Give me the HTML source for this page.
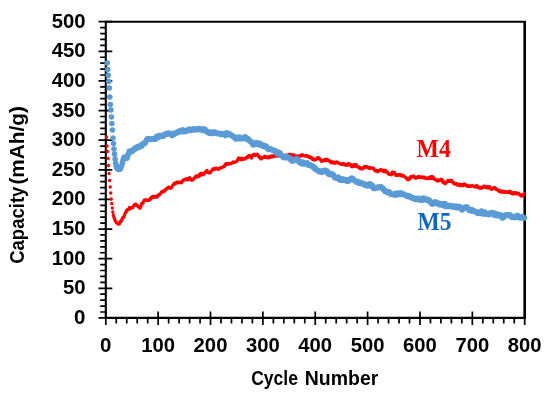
<!DOCTYPE html>
<html><head><meta charset="utf-8"><title>Cycle performance</title>
<style>
html,body{margin:0;padding:0;background:#fff;}
svg{display:block}
.t{font-family:"Liberation Sans",sans-serif;font-weight:bold;font-size:19.4px;fill:#000}
.s{font-family:"Liberation Serif",serif;font-weight:bold;font-size:24.5px}
</style></head><body>
<svg width="550" height="400" viewBox="0 0 550 400">
<rect width="550" height="400" fill="#fff"/>
<path d="M104.75 21.70H526.00" stroke="#000" stroke-width="2.1" fill="none"/><path d="M105.80 21.70V317.90H526.00" stroke="#000" stroke-width="2.1" fill="none"/><path d="M524.70 21.70V318.95" stroke="#000" stroke-width="2.6" fill="none"/>
<path d="M98.50 317.90H112.30M100.20 311.98H105.80M100.20 306.05H105.80M100.20 300.13H105.80M100.20 294.20H105.80M98.50 288.28H112.30M100.20 282.36H105.80M100.20 276.43H105.80M100.20 270.51H105.80M100.20 264.58H105.80M98.50 258.66H112.30M100.20 252.74H105.80M100.20 246.81H105.80M100.20 240.89H105.80M100.20 234.96H105.80M98.50 229.04H112.30M100.20 223.12H105.80M100.20 217.19H105.80M100.20 211.27H105.80M100.20 205.34H105.80M98.50 199.42H112.30M100.20 193.50H105.80M100.20 187.57H105.80M100.20 181.65H105.80M100.20 175.72H105.80M98.50 169.80H112.30M100.20 163.88H105.80M100.20 157.95H105.80M100.20 152.03H105.80M100.20 146.10H105.80M98.50 140.18H112.30M100.20 134.26H105.80M100.20 128.33H105.80M100.20 122.41H105.80M100.20 116.48H105.80M98.50 110.56H112.30M100.20 104.64H105.80M100.20 98.71H105.80M100.20 92.79H105.80M100.20 86.86H105.80M98.50 80.94H112.30M100.20 75.02H105.80M100.20 69.09H105.80M100.20 63.17H105.80M100.20 57.24H105.80M98.50 51.32H112.30M100.20 45.40H105.80M100.20 39.47H105.80M100.20 33.55H105.80M100.20 27.62H105.80M98.50 21.70H112.30M105.80 311.40V324.90M116.27 317.90V323.40M126.75 317.90V323.40M137.22 317.90V323.40M147.69 317.90V323.40M158.16 311.40V324.90M168.63 317.90V323.40M179.11 317.90V323.40M189.58 317.90V323.40M200.05 317.90V323.40M210.52 311.40V324.90M221.00 317.90V323.40M231.47 317.90V323.40M241.94 317.90V323.40M252.42 317.90V323.40M262.89 311.40V324.90M273.36 317.90V323.40M283.83 317.90V323.40M294.31 317.90V323.40M304.78 317.90V323.40M315.25 311.40V324.90M325.72 317.90V323.40M336.20 317.90V323.40M346.67 317.90V323.40M357.14 317.90V323.40M367.61 311.40V324.90M378.09 317.90V323.40M388.56 317.90V323.40M399.03 317.90V323.40M409.50 317.90V323.40M419.98 311.40V324.90M430.45 317.90V323.40M440.92 317.90V323.40M451.39 317.90V323.40M461.87 317.90V323.40M472.34 311.40V324.90M482.81 317.90V323.40M493.28 317.90V323.40M503.75 317.90V323.40M514.23 317.90V323.40M524.70 311.40V324.90" stroke="#000" stroke-width="1.7" fill="none"/>
<path d="M106.5 137.0h0M107.0 146.0h0M107.5 151.5h0M108.1 158.5h0M108.6 165.5h0M109.1 173.5h0M109.6 180.5h0M110.2 187.0h0M110.7 193.0h0M111.2 199.0h0M111.7 203.5h0M112.3 208.0h0M112.8 212.0h0M113.3 215.0h0M113.8 217.0h0M114.4 218.5h0M114.9 220.0h0M115.4 221.0h0M115.9 222.0h0M116.4 222.5h0M117.0 223.0h0M117.5 223.5h0M118.0 224.0h0M118.5 224.0h0M119.1 224.0h0M119.6 223.5h0M120.1 221.5h0M120.6 221.8h0M121.2 221.3h0M121.7 219.8h0M122.2 219.2h0M122.7 217.6h0M123.3 217.1h0M123.8 217.2h0M124.3 215.5h0M124.8 214.2h0M125.3 212.8h0M125.9 212.4h0M126.4 211.1h0M126.9 209.9h0M127.4 210.3h0M128.0 209.5h0M128.5 209.0h0M129.0 209.0h0M129.5 207.5h0M130.1 208.8h0M130.6 207.6h0M131.1 208.2h0M131.6 207.9h0M132.2 207.9h0M132.7 207.7h0M133.2 206.6h0M133.7 205.8h0M134.2 204.9h0M134.8 204.7h0M135.3 204.2h0M135.8 204.1h0M136.3 204.9h0M136.9 205.7h0M137.4 205.7h0M137.9 205.9h0M138.4 207.0h0M139.0 206.7h0M139.5 206.6h0M140.0 208.2h0M140.5 206.6h0M141.1 206.2h0M141.6 203.7h0M142.1 204.1h0M142.6 202.6h0M143.1 203.1h0M143.7 201.1h0M144.2 200.2h0M144.7 200.1h0M145.2 200.0h0M145.8 199.8h0M146.3 200.3h0M146.8 200.2h0M147.3 200.4h0M147.9 200.4h0M148.4 200.1h0M148.9 200.2h0M149.4 200.1h0M150.0 198.8h0M150.5 199.3h0M151.0 198.0h0M151.5 197.3h0M152.0 197.7h0M152.6 196.5h0M153.1 196.7h0M153.6 196.6h0M154.1 197.5h0M154.7 196.8h0M155.2 196.3h0M155.7 196.7h0M156.2 196.6h0M156.8 197.1h0M157.3 197.1h0M157.8 195.8h0M158.3 195.0h0M158.8 195.4h0M159.4 194.9h0M159.9 193.9h0M160.4 193.6h0M160.9 193.1h0M161.5 192.0h0M162.0 192.2h0M162.5 191.5h0M163.0 191.0h0M163.6 191.0h0M164.1 191.4h0M164.6 191.3h0M165.1 190.6h0M165.7 189.4h0M166.2 188.8h0M166.7 189.0h0M167.2 188.4h0M167.7 188.1h0M168.3 187.3h0M168.8 187.2h0M169.3 187.1h0M169.8 188.1h0M170.4 188.3h0M170.9 187.5h0M171.4 187.7h0M171.9 187.1h0M172.5 185.6h0M173.0 185.1h0M173.5 184.8h0M174.0 183.4h0M174.6 184.1h0M175.1 183.2h0M175.6 183.3h0M176.1 183.0h0M176.6 182.3h0M177.2 183.0h0M177.7 182.8h0M178.2 182.3h0M178.7 182.2h0M179.3 182.6h0M179.8 182.4h0M180.3 182.2h0M180.8 182.6h0M181.4 182.7h0M181.9 181.9h0M182.4 181.0h0M182.9 181.1h0M183.5 180.0h0M184.0 180.0h0M184.5 179.6h0M185.0 179.1h0M185.5 179.1h0M186.1 179.4h0M186.6 179.8h0M187.1 178.7h0M187.6 179.8h0M188.2 179.8h0M188.7 178.6h0M189.2 177.9h0M189.7 177.7h0M190.3 178.6h0M190.8 179.1h0M191.3 179.7h0M191.8 180.3h0M192.4 179.7h0M192.9 179.6h0M193.4 179.4h0M193.9 178.4h0M194.4 178.0h0M195.0 177.4h0M195.5 176.7h0M196.0 176.0h0M196.5 176.2h0M197.1 177.0h0M197.6 175.9h0M198.1 176.2h0M198.6 175.6h0M199.2 176.3h0M199.7 174.3h0M200.2 174.5h0M200.7 173.4h0M201.3 174.9h0M201.8 173.2h0M202.3 174.3h0M202.8 173.8h0M203.3 174.8h0M203.9 173.9h0M204.4 173.7h0M204.9 172.4h0M205.4 171.9h0M206.0 171.4h0M206.5 172.1h0M207.0 170.4h0M207.5 172.0h0M208.1 172.5h0M208.6 172.7h0M209.1 172.9h0M209.6 173.0h0M210.2 172.5h0M210.7 172.0h0M211.2 171.0h0M211.7 170.6h0M212.2 170.3h0M212.8 168.9h0M213.3 168.8h0M213.8 169.1h0M214.3 169.3h0M214.9 169.3h0M215.4 168.9h0M215.9 167.9h0M216.4 168.9h0M217.0 168.9h0M217.5 169.0h0M218.0 168.9h0M218.5 169.2h0M219.1 168.6h0M219.6 168.1h0M220.1 168.2h0M220.6 167.7h0M221.1 168.0h0M221.7 167.8h0M222.2 167.2h0M222.7 167.0h0M223.2 166.8h0M223.8 166.4h0M224.3 166.5h0M224.8 164.9h0M225.3 165.2h0M225.9 163.6h0M226.4 163.7h0M226.9 164.5h0M227.4 163.8h0M228.0 163.7h0M228.5 163.9h0M229.0 163.4h0M229.5 163.7h0M230.0 163.8h0M230.6 163.7h0M231.1 163.6h0M231.6 163.1h0M232.1 163.1h0M232.7 162.1h0M233.2 162.5h0M233.7 162.0h0M234.2 162.2h0M234.8 162.3h0M235.3 161.9h0M235.8 161.8h0M236.3 161.5h0M236.9 161.2h0M237.4 160.5h0M237.9 159.3h0M238.4 158.3h0M238.9 158.3h0M239.5 158.2h0M240.0 158.9h0M240.5 159.1h0M241.0 159.7h0M241.6 158.3h0M242.1 158.9h0M242.6 158.9h0M243.1 159.4h0M243.7 159.3h0M244.2 159.0h0M244.7 159.1h0M245.2 158.3h0M245.8 158.1h0M246.3 158.0h0M246.8 157.1h0M247.3 157.9h0M247.8 156.5h0M248.4 156.0h0M248.9 156.3h0M249.4 155.4h0M249.9 156.2h0M250.5 156.5h0M251.0 157.2h0M251.5 158.0h0M252.0 156.3h0M252.6 155.0h0M253.1 155.1h0M253.6 155.1h0M254.1 154.3h0M254.7 154.9h0M255.2 155.5h0M255.7 155.1h0M256.2 154.6h0M256.7 154.6h0M257.3 154.2h0M257.8 155.0h0M258.3 155.4h0M258.8 156.9h0M259.4 156.4h0M259.9 157.1h0M260.4 158.5h0M260.9 158.9h0M261.5 158.2h0M262.0 158.2h0M262.5 158.1h0M263.0 157.6h0M263.5 157.1h0M264.1 157.2h0M264.6 156.2h0M265.1 157.3h0M265.6 157.2h0M266.2 156.8h0M266.7 157.3h0M267.2 157.7h0M267.7 157.6h0M268.3 157.7h0M268.8 157.5h0M269.3 156.5h0M269.8 157.6h0M270.4 156.5h0M270.9 157.0h0M271.4 155.9h0M271.9 156.8h0M272.4 156.0h0M273.0 156.7h0M273.5 156.3h0M274.0 155.9h0M274.5 155.5h0M275.1 155.8h0M275.6 156.3h0M276.1 155.0h0M276.6 155.8h0M277.2 155.5h0M277.7 155.4h0M278.2 156.0h0M278.7 155.7h0M279.3 155.1h0M279.8 155.7h0M280.3 154.9h0M280.8 155.0h0M281.3 155.4h0M281.9 155.7h0M282.4 155.7h0M282.9 155.3h0M283.4 156.2h0M284.0 156.9h0M284.5 155.8h0M285.0 155.8h0M285.5 155.3h0M286.1 155.8h0M286.6 155.3h0M287.1 155.6h0M287.6 156.0h0M288.2 155.4h0M288.7 154.7h0M289.2 155.1h0M289.7 154.2h0M290.2 155.6h0M290.8 155.4h0M291.3 154.8h0M291.8 155.3h0M292.3 155.0h0M292.9 156.3h0M293.4 155.6h0M293.9 155.0h0M294.4 155.3h0M295.0 156.0h0M295.5 156.0h0M296.0 156.7h0M296.5 156.9h0M297.1 156.0h0M297.6 156.9h0M298.1 157.1h0M298.6 156.3h0M299.1 156.4h0M299.7 155.8h0M300.2 155.8h0M300.7 156.0h0M301.2 155.2h0M301.8 154.6h0M302.3 155.6h0M302.8 155.0h0M303.3 155.5h0M303.9 155.8h0M304.4 156.0h0M304.9 155.9h0M305.4 155.8h0M306.0 155.5h0M306.5 156.1h0M307.0 155.7h0M307.5 156.5h0M308.0 156.3h0M308.6 156.7h0M309.1 156.4h0M309.6 157.7h0M310.1 157.5h0M310.7 157.4h0M311.2 157.2h0M311.7 158.0h0M312.2 159.2h0M312.8 158.7h0M313.3 159.8h0M313.8 159.8h0M314.3 160.0h0M314.9 159.3h0M315.4 159.5h0M315.9 159.6h0M316.4 159.1h0M316.9 158.5h0M317.5 157.7h0M318.0 158.3h0M318.5 157.7h0M319.0 157.9h0M319.6 158.9h0M320.1 159.0h0M320.6 160.2h0M321.1 160.3h0M321.7 161.4h0M322.2 160.6h0M322.7 160.6h0M323.2 160.6h0M323.8 160.3h0M324.3 160.3h0M324.8 159.4h0M325.3 160.8h0M325.8 159.9h0M326.4 160.2h0M326.9 159.3h0M327.4 160.2h0M327.9 159.9h0M328.5 160.3h0M329.0 160.4h0M329.5 161.3h0M330.0 161.3h0M330.6 162.1h0M331.1 162.7h0M331.6 161.6h0M332.1 162.6h0M332.7 162.7h0M333.2 161.9h0M333.7 162.5h0M334.2 163.3h0M334.7 162.8h0M335.3 162.3h0M335.8 163.0h0M336.3 162.6h0M336.8 161.9h0M337.4 162.5h0M337.9 162.8h0M338.4 162.8h0M338.9 163.3h0M339.5 163.5h0M340.0 163.7h0M340.5 163.8h0M341.0 164.2h0M341.6 164.1h0M342.1 164.4h0M342.6 163.9h0M343.1 163.5h0M343.6 163.9h0M344.2 164.8h0M344.7 164.0h0M345.2 165.0h0M345.7 164.4h0M346.3 165.0h0M346.8 165.2h0M347.3 164.9h0M347.8 165.0h0M348.4 163.5h0M348.9 163.6h0M349.4 164.5h0M349.9 164.9h0M350.5 164.5h0M351.0 165.5h0M351.5 166.5h0M352.0 166.7h0M352.5 165.7h0M353.1 166.2h0M353.6 164.8h0M354.1 166.0h0M354.6 166.2h0M355.2 164.8h0M355.7 165.3h0M356.2 164.8h0M356.7 165.7h0M357.3 166.6h0M357.8 167.1h0M358.3 167.2h0M358.8 166.9h0M359.4 167.3h0M359.9 168.6h0M360.4 168.1h0M360.9 168.3h0M361.4 168.8h0M362.0 168.4h0M362.5 168.7h0M363.0 168.0h0M363.5 167.5h0M364.1 166.7h0M364.6 167.8h0M365.1 166.9h0M365.6 166.5h0M366.2 166.8h0M366.7 166.7h0M367.2 166.6h0M367.7 167.6h0M368.2 168.0h0M368.8 168.2h0M369.3 167.7h0M369.8 167.4h0M370.3 168.5h0M370.9 168.2h0M371.4 167.9h0M371.9 168.1h0M372.4 168.1h0M373.0 168.3h0M373.5 168.3h0M374.0 169.6h0M374.5 169.8h0M375.1 170.7h0M375.6 170.7h0M376.1 171.0h0M376.6 170.5h0M377.1 171.3h0M377.7 171.7h0M378.2 170.5h0M378.7 170.6h0M379.2 170.6h0M379.8 170.2h0M380.3 170.2h0M380.8 169.4h0M381.3 169.8h0M381.9 170.8h0M382.4 170.1h0M382.9 170.4h0M383.4 171.5h0M384.0 170.2h0M384.5 171.7h0M385.0 171.6h0M385.5 170.5h0M386.0 171.3h0M386.6 172.0h0M387.1 171.9h0M387.6 172.4h0M388.1 173.8h0M388.7 173.7h0M389.2 174.2h0M389.7 174.2h0M390.2 174.5h0M390.8 174.2h0M391.3 174.8h0M391.8 173.3h0M392.3 172.3h0M392.9 172.2h0M393.4 172.2h0M393.9 173.8h0M394.4 172.4h0M394.9 173.9h0M395.5 174.4h0M396.0 175.6h0M396.5 174.7h0M397.0 174.6h0M397.6 175.3h0M398.1 175.3h0M398.6 174.6h0M399.1 174.7h0M399.7 174.4h0M400.2 175.2h0M400.7 175.2h0M401.2 175.0h0M401.8 176.0h0M402.3 175.5h0M402.8 175.2h0M403.3 175.7h0M403.8 176.0h0M404.4 176.5h0M404.9 176.7h0M405.4 177.6h0M405.9 177.8h0M406.5 178.0h0M407.0 179.2h0M407.5 178.8h0M408.0 179.7h0M408.6 179.5h0M409.1 179.0h0M409.6 179.1h0M410.1 177.0h0M410.7 177.8h0M411.2 176.8h0M411.7 177.1h0M412.2 176.4h0M412.7 176.5h0M413.3 176.3h0M413.8 176.0h0M414.3 176.6h0M414.8 177.8h0M415.4 178.0h0M415.9 178.3h0M416.4 177.7h0M416.9 177.7h0M417.5 177.4h0M418.0 176.5h0M418.5 177.1h0M419.0 176.8h0M419.6 177.5h0M420.1 177.5h0M420.6 177.4h0M421.1 176.8h0M421.6 177.0h0M422.2 177.8h0M422.7 177.4h0M423.2 177.7h0M423.7 177.0h0M424.3 177.7h0M424.8 177.5h0M425.3 177.7h0M425.8 178.4h0M426.4 178.1h0M426.9 177.9h0M427.4 178.8h0M427.9 178.3h0M428.5 177.7h0M429.0 177.9h0M429.5 178.3h0M430.0 177.7h0M430.5 176.7h0M431.1 178.6h0M431.6 176.8h0M432.1 177.3h0M432.6 176.7h0M433.2 177.2h0M433.7 178.8h0M434.2 178.5h0M434.7 179.6h0M435.3 179.4h0M435.8 179.6h0M436.3 180.1h0M436.8 180.4h0M437.4 181.0h0M437.9 179.9h0M438.4 180.1h0M438.9 180.6h0M439.4 180.5h0M440.0 179.7h0M440.5 179.4h0M441.0 180.2h0M441.5 179.2h0M442.1 180.2h0M442.6 181.9h0M443.1 181.1h0M443.6 182.8h0M444.2 182.2h0M444.7 182.6h0M445.2 183.8h0M445.7 183.1h0M446.3 182.4h0M446.8 182.0h0M447.3 181.3h0M447.8 180.4h0M448.3 181.3h0M448.9 181.1h0M449.4 180.7h0M449.9 181.6h0M450.4 180.9h0M451.0 180.3h0M451.5 180.5h0M452.0 181.4h0M452.5 181.9h0M453.1 183.1h0M453.6 182.6h0M454.1 183.6h0M454.6 184.0h0M455.2 183.9h0M455.7 184.1h0M456.2 183.4h0M456.7 183.8h0M457.2 185.1h0M457.8 184.6h0M458.3 184.6h0M458.8 184.3h0M459.3 184.9h0M459.9 185.7h0M460.4 184.6h0M460.9 184.4h0M461.4 184.9h0M462.0 184.8h0M462.5 184.6h0M463.0 185.8h0M463.5 185.0h0M464.1 183.9h0M464.6 184.4h0M465.1 184.9h0M465.6 184.6h0M466.1 185.5h0M466.7 185.1h0M467.2 186.3h0M467.7 186.3h0M468.2 186.5h0M468.8 186.0h0M469.3 185.7h0M469.8 186.1h0M470.3 186.2h0M470.9 186.4h0M471.4 185.6h0M471.9 186.0h0M472.4 186.0h0M472.9 186.0h0M473.5 186.0h0M474.0 186.1h0M474.5 186.8h0M475.0 187.0h0M475.6 186.9h0M476.1 186.7h0M476.6 185.4h0M477.1 186.6h0M477.7 187.3h0M478.2 186.8h0M478.7 188.0h0M479.2 187.2h0M479.8 187.8h0M480.3 187.8h0M480.8 188.2h0M481.3 187.4h0M481.8 187.9h0M482.4 187.4h0M482.9 186.7h0M483.4 186.2h0M483.9 187.2h0M484.5 186.1h0M485.0 187.1h0M485.5 187.2h0M486.0 187.6h0M486.6 187.5h0M487.1 187.3h0M487.6 186.5h0M488.1 188.0h0M488.7 187.4h0M489.2 187.7h0M489.7 186.8h0M490.2 188.1h0M490.7 188.7h0M491.3 189.3h0M491.8 188.7h0M492.3 189.0h0M492.8 188.3h0M493.4 188.2h0M493.9 188.1h0M494.4 187.4h0M494.9 187.8h0M495.5 188.1h0M496.0 189.3h0M496.5 189.3h0M497.0 189.6h0M497.6 189.6h0M498.1 190.8h0M498.6 191.0h0M499.1 191.2h0M499.6 191.1h0M500.2 190.8h0M500.7 192.0h0M501.2 191.5h0M501.7 191.6h0M502.3 191.3h0M502.8 192.2h0M503.3 191.5h0M503.8 191.8h0M504.4 191.7h0M504.9 191.6h0M505.4 192.5h0M505.9 192.0h0M506.5 191.7h0M507.0 192.1h0M507.5 192.1h0M508.0 192.2h0M508.5 191.9h0M509.1 192.3h0M509.6 191.3h0M510.1 191.7h0M510.6 192.7h0M511.2 193.2h0M511.7 192.4h0M512.2 193.8h0M512.7 193.6h0M513.3 193.9h0M513.8 192.7h0M514.3 193.4h0M514.8 193.5h0M515.4 192.5h0M515.9 193.1h0M516.4 193.9h0M516.9 193.3h0M517.4 193.8h0M518.0 193.7h0M518.5 193.1h0M519.0 193.9h0M519.5 194.4h0M520.1 194.5h0M520.6 195.8h0M521.1 195.2h0M521.6 196.1h0M522.2 195.9h0M522.7 195.4h0M523.2 194.7h0M523.7 194.0h0M524.3 193.8h0" stroke="#ff0000" stroke-width="3.4" stroke-linecap="round" fill="none"/>
<path d="M107.2 63.0h0M107.7 69.5h0M108.2 75.3h0M108.8 81.5h0M109.3 88.0h0M109.8 97.0h0M110.3 104.5h0M110.9 110.0h0M111.4 117.0h0M111.9 123.5h0M112.4 130.0h0M113.0 138.0h0M113.5 143.5h0M114.0 149.0h0M114.5 154.0h0M115.1 159.0h0M115.6 163.0h0M116.1 165.5h0M116.6 167.5h0M117.1 168.5h0M117.7 169.0h0M118.2 169.3h0M118.7 169.5h0M119.2 169.5h0M119.8 169.3h0M120.3 169.0h0M120.8 168.0h0M121.3 166.5h0M121.9 165.0h0M122.4 163.0h0M122.9 161.0h0M123.4 159.0h0M124.0 157.5h0M124.5 157.1h0M125.0 157.5h0M125.5 158.2h0M126.0 158.5h0M126.6 157.3h0M127.1 157.9h0M127.6 156.6h0M128.1 154.4h0M128.7 153.7h0M129.2 151.2h0M129.7 151.6h0M130.2 151.2h0M130.8 151.0h0M131.3 151.7h0M131.8 150.4h0M132.3 151.3h0M132.9 150.0h0M133.4 150.3h0M133.9 149.3h0M134.4 149.5h0M134.9 149.3h0M135.5 147.9h0M136.0 148.3h0M136.5 147.8h0M137.0 147.3h0M137.6 146.6h0M138.1 147.6h0M138.6 146.7h0M139.1 147.2h0M139.7 146.1h0M140.2 145.7h0M140.7 145.9h0M141.2 145.0h0M141.8 145.9h0M142.3 144.4h0M142.8 144.6h0M143.3 143.6h0M143.8 143.3h0M144.4 143.2h0M144.9 143.2h0M145.4 142.6h0M145.9 141.3h0M146.5 140.2h0M147.0 139.1h0M147.5 138.8h0M148.0 138.7h0M148.6 138.8h0M149.1 138.9h0M149.6 138.8h0M150.1 139.3h0M150.7 139.5h0M151.2 139.1h0M151.7 138.9h0M152.2 138.7h0M152.7 139.1h0M153.3 138.5h0M153.8 139.0h0M154.3 139.1h0M154.8 139.1h0M155.4 139.2h0M155.9 138.4h0M156.4 137.7h0M156.9 136.2h0M157.5 136.8h0M158.0 137.4h0M158.5 135.7h0M159.0 135.6h0M159.5 135.8h0M160.1 136.4h0M160.6 136.1h0M161.1 135.5h0M161.6 135.6h0M162.2 136.0h0M162.7 135.6h0M163.2 136.2h0M163.7 135.3h0M164.3 134.7h0M164.8 134.7h0M165.3 134.1h0M165.8 133.8h0M166.4 134.3h0M166.9 134.3h0M167.4 133.2h0M167.9 133.2h0M168.4 133.2h0M169.0 133.5h0M169.5 133.3h0M170.0 133.8h0M170.5 133.8h0M171.1 134.6h0M171.6 133.5h0M172.1 135.4h0M172.6 135.2h0M173.2 134.4h0M173.7 134.6h0M174.2 134.2h0M174.7 133.1h0M175.3 133.3h0M175.8 133.3h0M176.3 132.6h0M176.8 132.8h0M177.3 132.2h0M177.9 132.0h0M178.4 131.4h0M178.9 131.5h0M179.4 131.1h0M180.0 132.0h0M180.5 131.1h0M181.0 130.4h0M181.5 131.0h0M182.1 131.0h0M182.6 129.7h0M183.1 131.5h0M183.6 130.5h0M184.2 131.8h0M184.7 131.0h0M185.2 130.5h0M185.7 131.5h0M186.2 130.4h0M186.8 130.5h0M187.3 130.3h0M187.8 130.4h0M188.3 130.1h0M188.9 129.5h0M189.4 129.1h0M189.9 130.5h0M190.4 129.3h0M191.0 130.4h0M191.5 129.3h0M192.0 130.0h0M192.5 130.0h0M193.1 128.9h0M193.6 129.7h0M194.1 129.9h0M194.6 130.0h0M195.1 129.5h0M195.7 129.7h0M196.2 129.3h0M196.7 128.8h0M197.2 129.6h0M197.8 128.5h0M198.3 129.5h0M198.8 129.2h0M199.3 128.5h0M199.9 129.3h0M200.4 129.6h0M200.9 129.4h0M201.4 130.0h0M202.0 129.4h0M202.5 130.2h0M203.0 129.7h0M203.5 128.7h0M204.0 129.3h0M204.6 129.5h0M205.1 129.2h0M205.6 130.9h0M206.1 131.5h0M206.7 131.8h0M207.2 131.4h0M207.7 132.3h0M208.2 131.9h0M208.8 132.5h0M209.3 133.2h0M209.8 132.7h0M210.3 132.2h0M210.9 132.6h0M211.4 133.2h0M211.9 133.4h0M212.4 132.1h0M212.9 132.4h0M213.5 132.6h0M214.0 132.7h0M214.5 132.9h0M215.0 132.1h0M215.6 132.6h0M216.1 133.5h0M216.6 133.2h0M217.1 133.3h0M217.7 133.7h0M218.2 133.3h0M218.7 133.7h0M219.2 133.6h0M219.8 133.4h0M220.3 133.6h0M220.8 134.4h0M221.3 134.2h0M221.8 133.9h0M222.4 134.2h0M222.9 133.7h0M223.4 134.4h0M223.9 134.4h0M224.5 134.3h0M225.0 133.6h0M225.5 135.4h0M226.0 134.5h0M226.6 132.8h0M227.1 133.4h0M227.6 133.6h0M228.1 133.4h0M228.7 134.0h0M229.2 133.6h0M229.7 134.7h0M230.2 134.8h0M230.7 134.9h0M231.3 135.1h0M231.8 135.4h0M232.3 135.9h0M232.8 135.7h0M233.4 136.3h0M233.9 137.0h0M234.4 137.4h0M234.9 138.1h0M235.5 138.4h0M236.0 138.9h0M236.5 138.4h0M237.0 137.2h0M237.6 138.3h0M238.1 138.6h0M238.6 138.2h0M239.1 138.2h0M239.6 137.0h0M240.2 138.7h0M240.7 138.4h0M241.2 138.0h0M241.7 138.4h0M242.3 138.3h0M242.8 138.6h0M243.3 138.1h0M243.8 138.3h0M244.4 137.8h0M244.9 136.8h0M245.4 137.0h0M245.9 138.3h0M246.5 138.9h0M247.0 138.5h0M247.5 139.3h0M248.0 138.9h0M248.5 139.3h0M249.1 140.3h0M249.6 141.1h0M250.1 141.3h0M250.6 141.5h0M251.2 141.6h0M251.7 142.5h0M252.2 143.3h0M252.7 143.4h0M253.3 144.9h0M253.8 143.6h0M254.3 143.8h0M254.8 144.1h0M255.4 143.3h0M255.9 143.6h0M256.4 142.5h0M256.9 143.2h0M257.4 142.8h0M258.0 144.4h0M258.5 143.4h0M259.0 143.9h0M259.5 144.4h0M260.1 143.5h0M260.6 145.2h0M261.1 145.5h0M261.6 145.6h0M262.2 145.1h0M262.7 145.1h0M263.2 146.2h0M263.7 146.3h0M264.2 146.6h0M264.8 145.5h0M265.3 145.9h0M265.8 146.6h0M266.3 146.3h0M266.9 147.2h0M267.4 148.2h0M267.9 148.9h0M268.4 148.6h0M269.0 149.4h0M269.5 149.0h0M270.0 149.0h0M270.5 148.9h0M271.1 149.2h0M271.6 149.3h0M272.1 149.6h0M272.6 149.7h0M273.1 150.4h0M273.7 150.6h0M274.2 150.2h0M274.7 151.1h0M275.2 151.3h0M275.8 151.0h0M276.3 152.5h0M276.8 153.3h0M277.3 153.8h0M277.9 153.4h0M278.4 152.3h0M278.9 153.7h0M279.4 154.0h0M280.0 152.9h0M280.5 154.7h0M281.0 154.9h0M281.5 155.2h0M282.0 155.5h0M282.6 155.9h0M283.1 157.3h0M283.6 156.8h0M284.1 157.2h0M284.7 157.7h0M285.2 157.8h0M285.7 156.6h0M286.2 157.8h0M286.8 157.1h0M287.3 157.1h0M287.8 157.0h0M288.3 157.2h0M288.9 157.5h0M289.4 158.1h0M289.9 158.6h0M290.4 159.6h0M290.9 159.5h0M291.5 159.7h0M292.0 160.9h0M292.5 159.5h0M293.0 159.7h0M293.6 160.7h0M294.1 160.2h0M294.6 159.3h0M295.1 159.8h0M295.7 159.1h0M296.2 159.6h0M296.7 158.7h0M297.2 159.7h0M297.8 159.9h0M298.3 160.4h0M298.8 161.4h0M299.3 162.2h0M299.8 161.3h0M300.4 162.8h0M300.9 162.5h0M301.4 163.6h0M301.9 162.5h0M302.5 163.6h0M303.0 162.0h0M303.5 163.9h0M304.0 163.8h0M304.6 163.6h0M305.1 163.6h0M305.6 163.5h0M306.1 163.7h0M306.7 163.4h0M307.2 162.7h0M307.7 163.6h0M308.2 165.1h0M308.7 164.2h0M309.3 164.7h0M309.8 164.6h0M310.3 165.3h0M310.8 165.6h0M311.4 165.7h0M311.9 166.4h0M312.4 165.7h0M312.9 166.5h0M313.5 167.2h0M314.0 167.2h0M314.5 167.4h0M315.0 169.1h0M315.6 168.8h0M316.1 169.6h0M316.6 169.7h0M317.1 170.3h0M317.6 170.2h0M318.2 170.2h0M318.7 171.0h0M319.2 171.8h0M319.7 170.9h0M320.3 171.7h0M320.8 171.7h0M321.3 171.9h0M321.8 172.2h0M322.4 171.4h0M322.9 170.8h0M323.4 170.6h0M323.9 170.5h0M324.5 170.7h0M325.0 171.3h0M325.5 170.2h0M326.0 170.7h0M326.5 171.0h0M327.1 171.1h0M327.6 172.9h0M328.1 172.7h0M328.6 174.1h0M329.2 173.0h0M329.7 174.6h0M330.2 174.0h0M330.7 174.3h0M331.3 174.1h0M331.8 174.1h0M332.3 174.1h0M332.8 175.0h0M333.4 174.8h0M333.9 176.1h0M334.4 177.0h0M334.9 177.8h0M335.4 177.9h0M336.0 178.0h0M336.5 177.8h0M337.0 177.3h0M337.5 177.5h0M338.1 177.1h0M338.6 177.8h0M339.1 179.6h0M339.6 178.9h0M340.2 178.9h0M340.7 180.2h0M341.2 179.4h0M341.7 179.3h0M342.3 179.1h0M342.8 180.1h0M343.3 179.0h0M343.8 179.4h0M344.3 180.1h0M344.9 179.9h0M345.4 180.1h0M345.9 180.2h0M346.4 180.8h0M347.0 181.3h0M347.5 179.9h0M348.0 180.3h0M348.5 181.1h0M349.1 180.6h0M349.6 179.5h0M350.1 179.4h0M350.6 178.9h0M351.2 178.3h0M351.7 178.1h0M352.2 178.9h0M352.7 178.6h0M353.2 179.8h0M353.8 179.8h0M354.3 180.1h0M354.8 181.0h0M355.3 181.1h0M355.9 181.4h0M356.4 182.1h0M356.9 181.9h0M357.4 181.6h0M358.0 182.2h0M358.5 181.9h0M359.0 183.2h0M359.5 182.4h0M360.1 182.5h0M360.6 182.8h0M361.1 182.5h0M361.6 183.4h0M362.1 183.2h0M362.7 183.2h0M363.2 183.7h0M363.7 184.5h0M364.2 183.8h0M364.8 184.9h0M365.3 184.5h0M365.8 185.3h0M366.3 184.7h0M366.9 186.0h0M367.4 185.3h0M367.9 184.2h0M368.4 185.6h0M368.9 184.3h0M369.5 184.0h0M370.0 183.9h0M370.5 184.9h0M371.0 185.7h0M371.6 185.1h0M372.1 185.4h0M372.6 185.8h0M373.1 187.7h0M373.7 188.4h0M374.2 187.7h0M374.7 188.4h0M375.2 188.2h0M375.8 187.9h0M376.3 188.1h0M376.8 187.6h0M377.3 187.5h0M377.8 187.1h0M378.4 187.6h0M378.9 187.0h0M379.4 187.2h0M379.9 187.3h0M380.5 186.6h0M381.0 187.3h0M381.5 187.6h0M382.0 188.1h0M382.6 187.9h0M383.1 188.3h0M383.6 190.1h0M384.1 190.2h0M384.7 190.5h0M385.2 191.4h0M385.7 191.2h0M386.2 191.4h0M386.7 192.1h0M387.3 191.3h0M387.8 191.8h0M388.3 192.8h0M388.8 192.5h0M389.4 192.0h0M389.9 193.1h0M390.4 193.8h0M390.9 194.2h0M391.5 194.0h0M392.0 193.8h0M392.5 194.5h0M393.0 194.6h0M393.6 194.3h0M394.1 194.9h0M394.6 194.6h0M395.1 194.6h0M395.6 193.4h0M396.2 194.7h0M396.7 194.9h0M397.2 193.8h0M397.7 193.0h0M398.3 193.8h0M398.8 193.3h0M399.3 193.1h0M399.8 194.1h0M400.4 192.8h0M400.9 194.1h0M401.4 193.1h0M401.9 194.4h0M402.5 194.2h0M403.0 193.9h0M403.5 194.0h0M404.0 194.3h0M404.5 194.8h0M405.1 195.0h0M405.6 195.2h0M406.1 195.2h0M406.6 196.1h0M407.2 195.3h0M407.7 196.5h0M408.2 196.4h0M408.7 196.7h0M409.3 195.8h0M409.8 196.4h0M410.3 197.1h0M410.8 197.2h0M411.4 197.1h0M411.9 197.7h0M412.4 197.7h0M412.9 198.4h0M413.4 197.7h0M414.0 198.4h0M414.5 198.7h0M415.0 199.2h0M415.5 198.8h0M416.1 199.1h0M416.6 198.8h0M417.1 198.6h0M417.6 198.4h0M418.2 198.4h0M418.7 200.0h0M419.2 198.5h0M419.7 198.7h0M420.3 199.2h0M420.8 199.2h0M421.3 199.5h0M421.8 200.2h0M422.3 200.2h0M422.9 199.3h0M423.4 198.0h0M423.9 199.4h0M424.4 198.4h0M425.0 198.9h0M425.5 198.8h0M426.0 199.8h0M426.5 199.4h0M427.1 200.3h0M427.6 200.0h0M428.1 199.6h0M428.6 199.8h0M429.2 200.7h0M429.7 200.6h0M430.2 202.1h0M430.7 202.4h0M431.2 203.0h0M431.8 203.7h0M432.3 204.1h0M432.8 203.8h0M433.3 203.4h0M433.9 203.6h0M434.4 202.1h0M434.9 203.5h0M435.4 201.8h0M436.0 202.9h0M436.5 202.2h0M437.0 203.0h0M437.5 203.0h0M438.1 203.7h0M438.6 203.5h0M439.1 203.3h0M439.6 204.7h0M440.1 204.1h0M440.7 204.0h0M441.2 203.7h0M441.7 204.9h0M442.2 203.7h0M442.8 204.4h0M443.3 203.7h0M443.8 205.4h0M444.3 204.5h0M444.9 203.6h0M445.4 206.4h0M445.9 204.9h0M446.4 206.4h0M447.0 206.4h0M447.5 206.4h0M448.0 206.0h0M448.5 206.0h0M449.0 206.4h0M449.6 205.4h0M450.1 205.7h0M450.6 206.3h0M451.1 206.0h0M451.7 205.9h0M452.2 207.0h0M452.7 206.6h0M453.2 206.3h0M453.8 206.2h0M454.3 206.1h0M454.8 207.3h0M455.3 207.5h0M455.9 206.0h0M456.4 206.6h0M456.9 207.3h0M457.4 207.7h0M457.9 207.4h0M458.5 206.6h0M459.0 207.1h0M459.5 206.6h0M460.0 207.9h0M460.6 207.5h0M461.1 208.3h0M461.6 209.0h0M462.1 210.0h0M462.7 209.1h0M463.2 208.6h0M463.7 208.2h0M464.2 207.3h0M464.8 207.9h0M465.3 207.1h0M465.8 207.3h0M466.3 206.7h0M466.8 207.5h0M467.4 207.2h0M467.9 208.7h0M468.4 209.5h0M468.9 209.6h0M469.5 210.4h0M470.0 209.5h0M470.5 209.8h0M471.0 209.8h0M471.6 209.5h0M472.1 211.3h0M472.6 211.0h0M473.1 210.6h0M473.6 210.6h0M474.2 211.5h0M474.7 211.7h0M475.2 211.4h0M475.7 211.7h0M476.3 211.7h0M476.8 212.0h0M477.3 212.9h0M477.8 213.5h0M478.4 212.3h0M478.9 213.1h0M479.4 212.6h0M479.9 212.6h0M480.5 213.3h0M481.0 212.4h0M481.5 211.1h0M482.0 212.9h0M482.5 213.3h0M483.1 213.9h0M483.6 212.9h0M484.1 214.0h0M484.6 212.1h0M485.2 212.9h0M485.7 213.5h0M486.2 213.6h0M486.7 214.1h0M487.3 214.1h0M487.8 213.6h0M488.3 214.6h0M488.8 214.1h0M489.4 214.5h0M489.9 213.0h0M490.4 213.4h0M490.9 212.7h0M491.4 213.1h0M492.0 212.6h0M492.5 212.8h0M493.0 212.7h0M493.5 214.0h0M494.1 214.9h0M494.6 215.3h0M495.1 213.3h0M495.6 214.0h0M496.2 215.6h0M496.7 214.4h0M497.2 214.2h0M497.7 215.0h0M498.3 214.5h0M498.8 214.3h0M499.3 214.6h0M499.8 216.1h0M500.3 214.7h0M500.9 216.4h0M501.4 216.1h0M501.9 216.6h0M502.4 217.9h0M503.0 216.7h0M503.5 217.4h0M504.0 216.3h0M504.5 215.2h0M505.1 215.3h0M505.6 215.6h0M506.1 214.7h0M506.6 214.9h0M507.2 214.9h0M507.7 215.2h0M508.2 215.1h0M508.7 215.5h0M509.2 214.7h0M509.8 215.7h0M510.3 215.1h0M510.8 216.5h0M511.3 216.8h0M511.9 216.5h0M512.4 217.4h0M512.9 217.5h0M513.4 217.5h0M514.0 217.1h0M514.5 217.3h0M515.0 217.4h0M515.5 216.2h0M516.1 216.1h0M516.6 217.2h0M517.1 215.6h0M517.6 215.6h0M518.1 216.4h0M518.7 217.3h0M519.2 217.4h0M519.7 217.8h0M520.2 217.4h0M520.8 217.9h0M521.3 217.9h0M521.8 217.7h0M522.3 216.5h0M522.9 217.6h0M523.4 217.4h0M523.9 218.0h0M524.4 217.9h0" stroke="#5b9bd5" stroke-width="5.6" stroke-linecap="round" fill="none"/>
<g class="t">
<text x="85.50" y="323.90" text-anchor="end" textLength="11.4" lengthAdjust="spacingAndGlyphs">0</text>
<text x="85.50" y="294.28" text-anchor="end" textLength="22.6" lengthAdjust="spacingAndGlyphs">50</text>
<text x="85.50" y="264.66" text-anchor="end" textLength="33.8" lengthAdjust="spacingAndGlyphs">100</text>
<text x="85.50" y="235.04" text-anchor="end" textLength="33.8" lengthAdjust="spacingAndGlyphs">150</text>
<text x="85.50" y="205.42" text-anchor="end" textLength="33.8" lengthAdjust="spacingAndGlyphs">200</text>
<text x="85.50" y="175.80" text-anchor="end" textLength="33.8" lengthAdjust="spacingAndGlyphs">250</text>
<text x="85.50" y="146.18" text-anchor="end" textLength="33.8" lengthAdjust="spacingAndGlyphs">300</text>
<text x="85.50" y="116.56" text-anchor="end" textLength="33.8" lengthAdjust="spacingAndGlyphs">350</text>
<text x="85.50" y="86.94" text-anchor="end" textLength="33.8" lengthAdjust="spacingAndGlyphs">400</text>
<text x="85.50" y="57.32" text-anchor="end" textLength="33.8" lengthAdjust="spacingAndGlyphs">450</text>
<text x="85.50" y="27.70" text-anchor="end" textLength="33.8" lengthAdjust="spacingAndGlyphs">500</text>
<text x="105.80" y="352.30" text-anchor="middle" textLength="11.4" lengthAdjust="spacingAndGlyphs">0</text>
<text x="158.16" y="352.30" text-anchor="middle" textLength="33.8" lengthAdjust="spacingAndGlyphs">100</text>
<text x="210.52" y="352.30" text-anchor="middle" textLength="33.8" lengthAdjust="spacingAndGlyphs">200</text>
<text x="262.89" y="352.30" text-anchor="middle" textLength="33.8" lengthAdjust="spacingAndGlyphs">300</text>
<text x="315.25" y="352.30" text-anchor="middle" textLength="33.8" lengthAdjust="spacingAndGlyphs">400</text>
<text x="367.61" y="352.30" text-anchor="middle" textLength="33.8" lengthAdjust="spacingAndGlyphs">500</text>
<text x="419.98" y="352.30" text-anchor="middle" textLength="33.8" lengthAdjust="spacingAndGlyphs">600</text>
<text x="472.34" y="352.30" text-anchor="middle" textLength="33.8" lengthAdjust="spacingAndGlyphs">700</text>
<text x="524.70" y="352.30" text-anchor="middle" textLength="33.8" lengthAdjust="spacingAndGlyphs">800</text>
<text y="385.2" style="font-size:19.6px"><tspan x="251.2" textLength="46.8" lengthAdjust="spacingAndGlyphs">Cycle</tspan> <tspan x="304.8" textLength="73.6" lengthAdjust="spacingAndGlyphs">Number</tspan></text>
<text transform="translate(24.3 0) rotate(-90)" style="font-size:19.6px"><tspan x="-263.8" textLength="77.2" lengthAdjust="spacingAndGlyphs">Capacity</tspan> <tspan x="-184.6" textLength="78.4" lengthAdjust="spacingAndGlyphs">(mAh/g)</tspan></text>
</g>
<text class="s" x="416.6" y="156.6" fill="#ff0000" textLength="34.2" lengthAdjust="spacingAndGlyphs">M4</text>
<text class="s" x="417.6" y="229.9" fill="#0f69c0" textLength="34.0" lengthAdjust="spacingAndGlyphs">M5</text>
</svg>
</body></html>
